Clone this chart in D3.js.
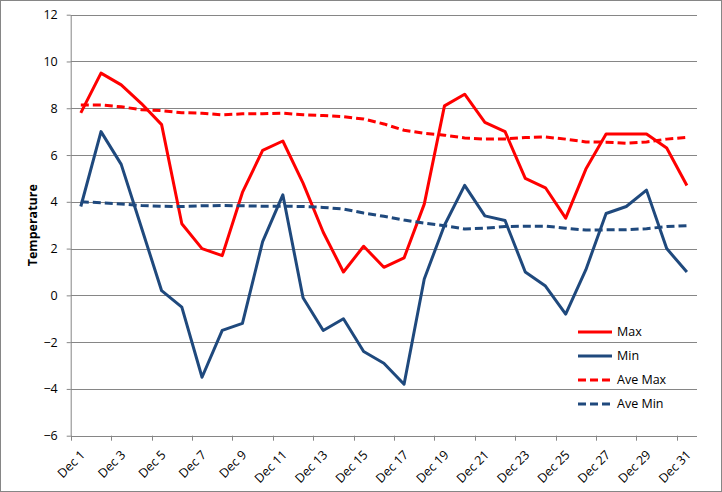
<!DOCTYPE html>
<html>
<head>
<meta charset="utf-8">
<script src="https://cdn.jsdelivr.net/npm/d3@7"></script>
<style>
  body { margin: 0; background: #fff; }
  svg { display: block; font-family: "Open Sans", sans-serif; }
</style>
</head>
<body>
<div id="chart"></div>
<script>
// Data
const days = ["Dec 1","Dec 2","Dec 3","Dec 4","Dec 5","Dec 6","Dec 7","Dec 8","Dec 9","Dec 10",
  "Dec 11","Dec 12","Dec 13","Dec 14","Dec 15","Dec 16","Dec 17","Dec 18","Dec 19","Dec 20",
  "Dec 21","Dec 22","Dec 23","Dec 24","Dec 25","Dec 26","Dec 27","Dec 28","Dec 29","Dec 30","Dec 31"];
const maxTemp = [7.8, 9.5, 9.0, 8.2, 7.3, 3.06, 2.0, 1.7, 4.4, 6.2, 6.6, 4.8, 2.7, 1.0, 2.1, 1.2,
  1.6, 3.9, 8.1, 8.6, 7.4, 7.0, 5.0, 4.6, 3.3, 5.4, 6.9, 6.9, 6.9, 6.3, 4.7];
const minTemp = [3.8, 7.0, 5.6, 2.9, 0.2, -0.5, -3.5, -1.5, -1.2, 2.3, 4.3, -0.1, -1.5, -1.0, -2.4, -2.9,
  -3.8, 0.7, 3.0, 4.7, 3.4, 3.2, 1.0, 0.4, -0.8, 1.1, 3.5, 3.8, 4.5, 2.0, 1.0];
const aveMax = [8.14, 8.14, 8.06, 7.94, 7.9, 7.81, 7.79, 7.72, 7.76, 7.77, 7.79, 7.72, 7.69, 7.64, 7.54, 7.33,
  7.06, 6.93, 6.85, 6.73, 6.68, 6.69, 6.75, 6.77, 6.68, 6.56, 6.55, 6.5, 6.56, 6.68, 6.76];
const aveMin = [4.0, 3.96, 3.91, 3.84, 3.81, 3.8, 3.83, 3.84, 3.83, 3.81, 3.81, 3.8, 3.76, 3.69, 3.52, 3.38,
  3.22, 3.09, 2.98, 2.84, 2.87, 2.94, 2.96, 2.96, 2.87, 2.79, 2.8, 2.81, 2.85, 2.94, 2.98];
const yTicks = [-6, -4, -2, 0, 2, 4, 6, 8, 10, 12];

const series = [
  { name: "Max", values: maxTemp, color: "#ff0000", dash: null },
  { name: "Min", values: minTemp, color: "#1f497d", dash: null },
  { name: "Ave Max", values: aveMax, color: "#ff0000", dash: "8,4" },
  { name: "Ave Min", values: aveMin, color: "#1f497d", dash: "8,4" }
];

const width = 722, height = 492;
const plot = { left: 70.7, right: 697, top: 14.7, bottom: 435.7 };
const gridColor = "#868686";

const svg = d3.select("#chart").append("svg")
  .attr("width", width)
  .attr("height", height);

// outer frame
svg.append("rect")
  .attr("x", 0.5).attr("y", 0.5)
  .attr("width", width - 1).attr("height", height - 1)
  .attr("fill", "#fff")
  .attr("stroke", gridColor);

const x = d3.scaleBand().domain(days).range([plot.left, plot.right]).padding(0);
const y = d3.scaleLinear().domain([-6, 12]).range([plot.bottom, plot.top]);
const cx = d => x(d) + x.bandwidth() / 2;

// gridlines + y axis
const yAxis = svg.append("g")
  .attr("transform", `translate(${plot.left},0)`)
  .call(d3.axisLeft(y).tickValues(yTicks).tickSize(4).tickSizeOuter(0).tickFormat(d3.format("d")));
yAxis.select(".domain").attr("stroke", gridColor);
yAxis.selectAll(".tick line").attr("stroke", gridColor);
yAxis.selectAll(".tick text")
  .attr("x", -13)
  .attr("fill", "#000")
  .style("font-size", "12.5px")
  .style("font-family", "Open Sans, sans-serif");

svg.append("g")
  .selectAll("line")
  .data(yTicks.filter(v => v !== -6))
  .enter().append("line")
  .attr("x1", plot.left).attr("x2", plot.right)
  .attr("y1", d => Math.round(y(d)) + 0.5).attr("y2", d => Math.round(y(d)) + 0.5)
  .attr("stroke", gridColor);

// x axis
const xAxis = svg.append("g");
xAxis.append("line")
  .attr("x1", plot.left).attr("x2", plot.right)
  .attr("y1", Math.round(plot.bottom) + 0.5).attr("y2", Math.round(plot.bottom) + 0.5)
  .attr("stroke", gridColor);
const labelled = days.filter((d, i) => i % 2 === 0);
xAxis.selectAll(".xtick")
  .data(labelled)
  .enter().append("line")
  .attr("class", "xtick")
  .attr("x1", d => Math.round(x(d)) + 0.5).attr("x2", d => Math.round(x(d)) + 0.5)
  .attr("y1", plot.bottom).attr("y2", plot.bottom + 5)
  .attr("stroke", gridColor);
xAxis.selectAll(".xlabel")
  .data(labelled)
  .enter().append("text")
  .attr("class", "xlabel")
  .attr("transform", d => `translate(${cx(d) + 5},${plot.bottom + 20}) rotate(-45)`)
  .attr("text-anchor", "end")
  .style("font-size", "12.5px")
  .attr("fill", "#000")
  .text(d => d);

// y axis title
svg.append("text")
  .attr("transform", `translate(37,${(plot.top + plot.bottom) / 2}) rotate(-90)`)
  .attr("text-anchor", "middle")
  .style("font-size", "12.5px")
  .style("font-weight", "bold")
  .attr("fill", "#000")
  .text("Temperature");

// lines
const line = d3.line()
  .x((v, i) => cx(days[i]))
  .y(v => y(v));

svg.append("g")
  .selectAll("path")
  .data(series)
  .enter().append("path")
  .attr("d", s => line(s.values))
  .attr("fill", "none")
  .attr("stroke", s => s.color)
  .attr("stroke-width", 3)
  .attr("stroke-linejoin", "round")
  .attr("stroke-dasharray", s => s.dash);

// legend
const legend = svg.append("g").attr("transform", "translate(578,332)");
const item = legend.selectAll("g")
  .data(series)
  .enter().append("g")
  .attr("transform", (s, i) => `translate(0,${i * 24})`);
item.append("line")
  .attr("x1", 0).attr("x2", 34)
  .attr("stroke", s => s.color)
  .attr("stroke-width", 3)
  .attr("stroke-dasharray", s => s.dash);
item.append("text")
  .attr("x", 39).attr("dy", "0.35em")
  .style("font-size", "12.5px")
  .attr("fill", "#000")
  .text(s => s.name);
</script>
</body>
</html>
